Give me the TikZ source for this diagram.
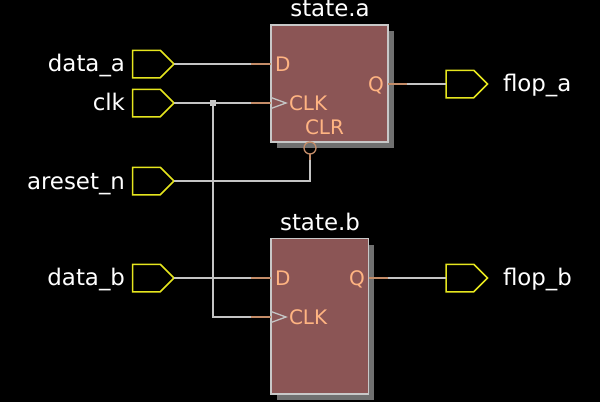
\documentclass[tikz,border=0pt]{standalone}
\usepackage{fontspec}
\setmainfont{DejaVu Sans}
\usetikzlibrary{shapes.symbols,calc}
\definecolor{boxfill}{HTML}{8B5555}
\definecolor{boxline}{HTML}{C8C8C8}
\definecolor{shade}{HTML}{707070}
\definecolor{wire}{HTML}{C4C4C4}
\definecolor{pinwire}{HTML}{C48C68}
\definecolor{pintext}{HTML}{FFB482}
\definecolor{portline}{HTML}{E6E61E}
\tikzset{
  x=1pt,y=-1pt,
  port/.style={signal,signal to=east,signal pointer angle=90,draw=portline,line width=1.5pt,
     minimum width=41.5pt,minimum height=27.5pt,inner sep=0pt,outer sep=0pt,anchor=east},
  portlabel/.style={text=white,font=\fontsize{22.9}{24}\selectfont,inner sep=0pt,outer sep=0pt},
  title/.style={text=white,font=\fontsize{22.9}{24}\selectfont,inner sep=0pt,outer sep=0pt,anchor=base},
  pintxt/.style={text=pintext,font=\fontsize{20}{22}\selectfont,inner sep=0pt,outer sep=0pt,anchor=base west},
  flop/.style={draw=boxline,fill=boxfill,line width=1.5pt,inner sep=0pt,outer sep=0pt,anchor=north west},
  shadebox/.style={fill=shade,draw=none,inner sep=0pt,outer sep=0pt,anchor=north west},
  wireline/.style={draw=wire,line width=1.3pt},
  pinline/.style={draw=pinwire,line width=1.3pt},
  junction/.style={fill=boxline,draw=none,minimum size=5.5pt,inner sep=0pt,outer sep=0pt},
  bubble/.style={circle,draw=pinwire,line width=1.3pt,minimum size=12pt,inner sep=0pt,outer sep=0pt},
}
\begin{document}
\begin{tikzpicture}
\fill[black] (0,0) rectangle (600,402);
\useasboundingbox (0,0) rectangle (600,402);
% shadows
\node[shadebox,minimum width=117pt,minimum height=117pt] (shadea) at (276.5,31) {};
\node[shadebox,minimum width=97.5pt,minimum height=155.5pt] (shadeb) at (276.5,244.5) {};
% flops
\node[flop,minimum width=117pt,minimum height=117pt] (statea) at (271,25) {};
\node[flop,minimum width=97.5pt,minimum height=155.5pt] (stateb) at (271,238.7) {};
\node[title] (ta) at (330,16.5) {state.a};
\node[title] (tb) at (320,230) {state.b};
% ports
\node[port] (pa) at (174,64) {};
\node[port] (pclk) at (174,103) {};
\node[port] (prst) at (174,181) {};
\node[port] (pb) at (174,278) {};
\node[port] (qa) at (487.5,84) {};
\node[port] (qb) at (487.5,278) {};
% port labels
\node[portlabel,anchor=base east] (la) at (125,71.7) {data\_a};
\node[portlabel,anchor=base east] (lclk) at (125,110.5) {clk};
\node[portlabel,anchor=base east] (lrst) at (125,189) {areset\_n};
\node[portlabel,anchor=base east] (lb) at (125,285.5) {data\_b};
\node[portlabel,anchor=base west] (lqa) at (503,91.7) {flop\_a};
\node[portlabel,anchor=base west] (lqb) at (503,285.5) {flop\_b};
% pin texts
\node[pintxt] (da) at (275,71) {D};
\node[pintxt] (ca) at (289,110) {CLK};
\node[pintxt] (qqa) at (368,91) {Q};
\node[pintxt] (cl) at (305,134) {CLR};
\node[pintxt] (db) at (275,285) {D};
\node[pintxt] (cb) at (289,324) {CLK};
\node[pintxt] (qqb) at (349,285) {Q};
% pin coordinates
\coordinate (pda) at (271,64);
\coordinate (pdb) at (271,278);
\coordinate (pca) at (271,103);
\coordinate (pcb) at (271,317);
\coordinate (oqa) at (388,84);
\coordinate (oqb) at (368.5,278);
\coordinate (ma) at (251,64);
\coordinate (mc) at (251,103);
\coordinate (mb) at (251,278);
\coordinate (mcb) at (251,317);
\coordinate (moa) at (407,84);
\coordinate (mob) at (388,278);
\coordinate (turn) at (213,317);
\coordinate (rturn) at (310,181);
\coordinate (rmid) at (310,160);
\node[bubble] (rb) at (310,148) {};
\node[junction] (j) at (213,103) {};
% wires
\draw[wireline] (pa.east) -- (ma);
\draw[wireline] (pclk.east) -- (mc);
\draw[wireline] (pb.east) -- (mb);
\draw[wireline] (j.center) -- (turn) -- (mcb);
\draw[wireline] (prst.east) -- (rturn) -- (rmid);
\draw[wireline] (moa) -- (qa.west);
\draw[wireline] (mob) -- (qb.west);
\draw[pinline] (ma) -- (pda);
\draw[pinline] (mc) -- (pca);
\draw[pinline] (mb) -- (pdb);
\draw[pinline] (mcb) -- (pcb);
\draw[pinline] (oqa) -- (moa);
\draw[pinline] (oqb) -- (mob);
\draw[pinline] (rmid) -- (rb.south);
% clock triangles
\draw[wireline] ($(pca)+(0,-5.5)$) -- ($(pca)+(15,0)$) -- ($(pca)+(0,5.5)$);
\draw[wireline] ($(pcb)+(0,-5.5)$) -- ($(pcb)+(15,0)$) -- ($(pcb)+(0,5.5)$);
\end{tikzpicture}
\end{document}
